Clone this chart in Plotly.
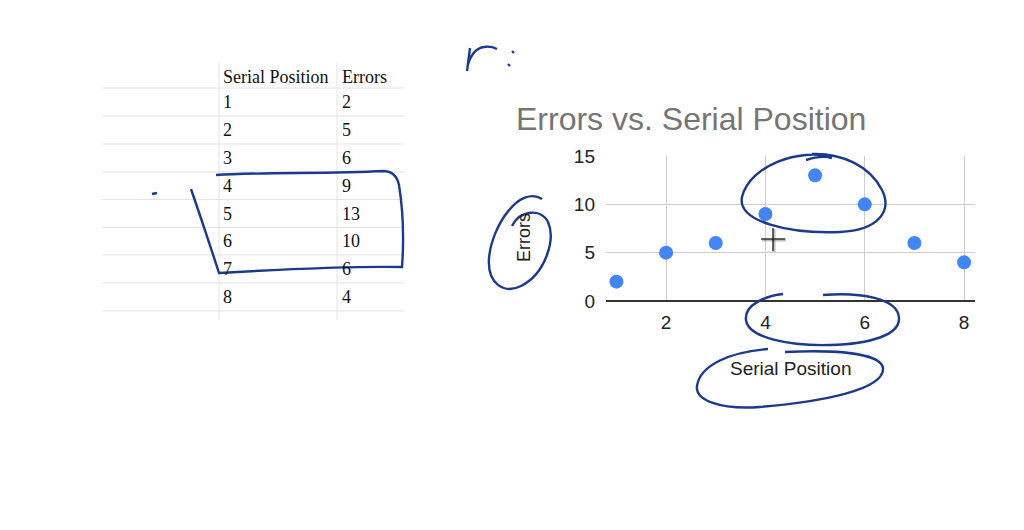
import plotly.graph_objects as go

# ---- data ----
serial_position = [1, 2, 3, 4, 5, 6, 7, 8]
errors = [2, 5, 6, 9, 13, 10, 6, 4]
table_headers = ["Serial Position", "Errors"]
chart_title = "Errors vs. Serial Position"
x_title = "Serial Position"
y_title = "Errors"

W, H = 1024, 530


def X(px):
    return px / W


def Y(py):
    return 1 - py / H


def path(pts_str):
    # convert "M x,y C x,y x,y x,y ..." in pixels to paper coords
    out = []
    for tok in pts_str.split():
        if "," in tok:
            a, b = tok.split(",")
            out.append(f"{X(float(a)):.5f},{Y(float(b)):.5f}")
        else:
            out.append(tok)
    return " ".join(out)


fig = go.Figure()
fig.add_trace(go.Scatter(
    x=serial_position, y=errors, mode="markers",
    marker=dict(size=14, color="#4285f4", line=dict(width=0)),
    showlegend=False, hoverinfo="skip",
))

FONT = "Liberation Sans, Arial, sans-serif"
SERIF = "Liberation Serif, Times New Roman, serif"

shapes = []
annotations = []

# ---- table (left) ----
row_lines = [88, 116, 144, 172, 199.5, 227.5, 255, 283, 311]
for yy in row_lines:
    shapes.append(dict(type="line", xref="paper", yref="paper",
                       x0=X(102), x1=X(404), y0=Y(yy), y1=Y(yy),
                       line=dict(color="#e3e3e3", width=1)))
for xx in [219, 337]:
    shapes.append(dict(type="line", xref="paper", yref="paper",
                       x0=X(xx), x1=X(xx), y0=Y(62), y1=Y(320),
                       line=dict(color="#e3e3e3", width=1)))

col_x = [221, 340]
for cx, hdr in zip(col_x, table_headers):
    annotations.append(dict(text=hdr, x=X(cx), y=Y(77), xref="paper", yref="paper",
                            xanchor="left", yanchor="middle", showarrow=False,
                            font=dict(family=SERIF, size=18, color="#111")))
for i, (sp, er) in enumerate(zip(serial_position, errors)):
    yc = (row_lines[i] + row_lines[i + 1]) / 2
    for cx, val in zip(col_x, (sp, er)):
        annotations.append(dict(text=str(val), x=X(cx), y=Y(yc),
                                xref="paper", yref="paper", xanchor="left", yanchor="middle",
                                showarrow=False, font=dict(family=SERIF, size=18, color="#111")))

# ---- chart titles ----
annotations.append(dict(text=chart_title, x=X(514), y=Y(119), xref="paper", yref="paper",
                        xanchor="left", yanchor="middle", showarrow=False,
                        font=dict(family=FONT, size=32, color="#757575")))
annotations.append(dict(text=x_title, x=X(790), y=Y(368), xref="paper", yref="paper",
                        xanchor="center", yanchor="middle", showarrow=False,
                        font=dict(family=FONT, size=19, color="#222")))
annotations.append(dict(text=y_title, x=X(524), y=Y(238), xref="paper", yref="paper",
                        xanchor="center", yanchor="middle", showarrow=False, textangle=-90,
                        font=dict(family=FONT, size=18, color="#222")))

# ---- cursor crosshair ----
for (x0, y0, x1, y1) in [(773, 228, 773, 251), (761, 239, 785, 239)]:
    shapes.append(dict(type="line", xref="paper", yref="paper",
                       x0=X(x0 + 1), x1=X(x1 + 1), y0=Y(y0 + 1), y1=Y(y1 + 1),
                       line=dict(color="rgba(0,0,0,0.25)", width=3)))
    shapes.append(dict(type="line", xref="paper", yref="paper",
                       x0=X(x0), x1=X(x1), y0=Y(y0), y1=Y(y1),
                       line=dict(color="#222", width=1.3)))

# ---- handwritten ink strokes ----
INK = "#1b3a8c"
strokes = [
    # "r:"
    "M 470,48 C 469,56 468,64 467,71",
    "M 468,64 C 471,55 476,48 484,47 C 489,46 493,47 497,49",
    "M 512,51 L 514,53",
    "M 508,64 L 510,66",
    # loop around "Errors"
    "M 542,199 C 520,185 492,225 489,258 C 487,285 505,294 521,286 C 545,274 556,240 548,222 C 541,208 520,210 512,226",
    # loop around top points
    "M 806,160 C 815,157 825,156 832,158",
    "M 832,157 C 800,148 750,165 742,197 C 737,222 790,234 840,232 C 880,230 892,210 882,190 C 870,166 842,153 812,154",
    # loop around 4/6 tick labels
    "M 783,294 C 765,296 744,305 746,320 C 748,338 790,346 830,345 C 870,344 900,335 899,318 C 898,298 860,292 823,295",
    # loop around "Serial Position"
    "M 785,352 C 830,350 880,352 883,368 C 885,390 820,402 760,407 C 720,410 695,400 697,386 C 700,365 730,352 768,349",
    # table rectangle
    "M 216,175 C 260,172 330,174 383,171 C 392,171 397,176 399,185 C 403,210 404,240 402,267 C 340,266 270,270 219,273 C 210,245 200,215 191,189",
    "M 152,194 L 157,193",
]
for s in strokes:
    shapes.append(dict(type="path", xref="paper", yref="paper", path=path(s),
                       line=dict(color=INK, width=2.4)))

fig.update_layout(
    template="none",
    width=W, height=H, autosize=False,
    margin=dict(l=0, r=0, t=0, b=0, pad=0, autoexpand=False),
    paper_bgcolor="white", plot_bgcolor="white",
    font=dict(family=FONT),
    showlegend=False,
    shapes=shapes, annotations=annotations,
    xaxis=dict(domain=[X(606), X(975)], range=[0.79, 8.22], automargin=False,
               tickmode="linear", tick0=0, dtick=2,
               showgrid=True, gridcolor="#cccccc", gridwidth=1,
               zeroline=False, showline=False, ticks="",
               ticklabelstandoff=8,
               tickfont=dict(family=FONT, size=19, color="#222")),
    yaxis=dict(domain=[Y(301), Y(156)], range=[0, 15], automargin=False,
               tickmode="linear", tick0=0, dtick=5,
               showgrid=True, gridcolor="#cccccc", gridwidth=1,
               zeroline=True, zerolinecolor="#333333", zerolinewidth=1.5,
               showline=False, ticks="",
               ticklabelstandoff=10,
               tickfont=dict(family=FONT, size=19, color="#222")),
)

fig.write_html("out.html", config={"displayModeBar": False},
               post_script="document.body.style.margin='0';")
